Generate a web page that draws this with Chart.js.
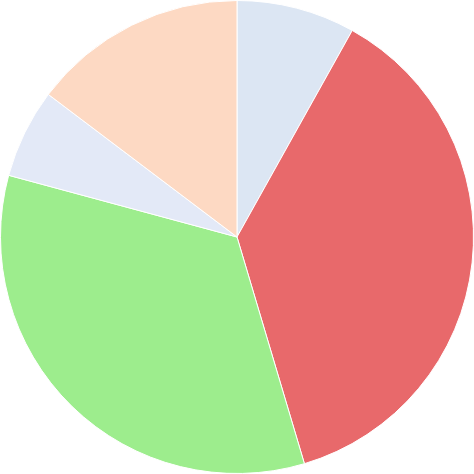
<!DOCTYPE html>
<html><head><meta charset="utf-8">
<script src="https://cdn.jsdelivr.net/npm/chart.js@4"></script>
<style>html,body{margin:0;padding:0;background:#fff}#w{width:474px;height:474px}</style>
</head><body><div id="w"><canvas id="c"></canvas></div>
<script>
const labels = ["A","B","C","D","E"];
const values = [8.1, 37.3, 33.8, 6.1, 14.7];
const colors = ["#dce6f3","#e8696b","#9ded8d","#e3e9f7","#fdd9c3"];
new Chart(document.getElementById('c'), {
  type: 'pie',
  data: { labels, datasets: [{ data: values, backgroundColor: colors, borderColor: '#ffffff', borderWidth: 1 }] },
  options: { responsive: true, maintainAspectRatio: false, animation: false,
    layout: { padding: 0 },
    plugins: { legend: { display: false }, tooltip: { enabled: false } } }
});
</script></body></html>
